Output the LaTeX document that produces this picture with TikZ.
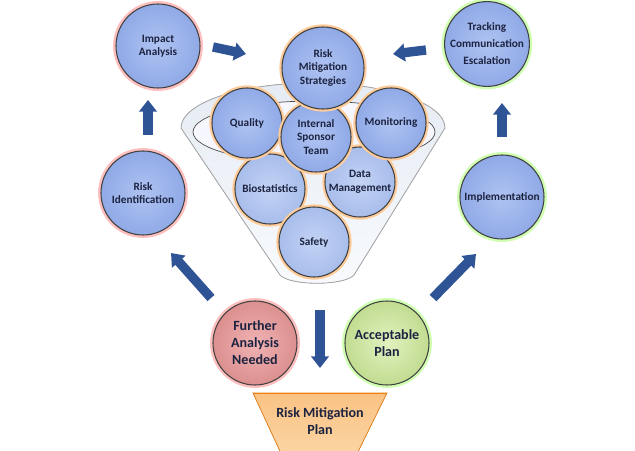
\documentclass[tikz,border=0pt]{standalone}
\usepackage{fontspec}
\setmainfont{Carlito}
\usetikzlibrary{arrows.meta,positioning,calc}

\definecolor{ballIn}{HTML}{AFC3F2}
\definecolor{ballOut}{HTML}{90AAE7}
\definecolor{paleIn}{HTML}{C3D3F5}
\definecolor{paleOut}{HTML}{A8BDEB}
\definecolor{arrowblue}{HTML}{2F5496}
\definecolor{textnavy}{HTML}{1C2340}
\definecolor{redIn}{HTML}{F0B3B3}
\definecolor{redOut}{HTML}{DC8F8F}
\definecolor{greenIn}{HTML}{E1F1C0}
\definecolor{greenOut}{HTML}{C2DC90}
\definecolor{planTop}{HTML}{F9C283}
\definecolor{planBot}{HTML}{FCD7A8}
\definecolor{funnelTop}{HTML}{E6ECF4}
\definecolor{funnelBot}{HTML}{F8FAFD}

\begin{document}
\begin{tikzpicture}[x=0.03cm, y=-0.03cm,
    ball/.style={circle, inner sep=0pt, align=center, text=textnavy,
      font=\fontsize{9.6}{11.5}\selectfont\bfseries, draw=gray!50!black,
      line width=0.9pt, inner color=ballIn, outer color=ballOut},
    stage/.style={ball, minimum size=2.52cm},
    part/.style={ball, minimum size=2.1cm},
    pale/.style={inner color=paleIn, outer color=paleOut},
    glowred/.style={preaction={draw=red!25, line width=5pt}},
    glowgreen/.style={preaction={draw=green!60!yellow!30, line width=5pt}},
    gloworange/.style={preaction={draw=orange!40, line width=4.5pt}},
    bigtext/.style={font=\fontsize{12}{14.5}\selectfont\bfseries},
    flow/.style={draw=arrowblue, line width=8pt, -{Triangle[width=15pt,length=10pt]}}]
  \useasboundingbox (0,0) rectangle (635,451);
  \clip (0,0) rectangle (635,451);

  % Funnel
  \filldraw[draw=gray!70, line width=0.7pt, top color=funnelTop, bottom color=funnelBot]
    (181,128) -- (280,275) .. controls (290,286) and (344,286) .. (354,275)
    -- (445,128) arc[start angle=0, end angle=-180, x radius=132, y radius=45];
  \filldraw[draw=gray!60!black, line width=0.6pt, fill=gray!15!blue!4]
    (314,132) ellipse[x radius=121, y radius=31];

  % Circles inside the funnel
  \node[part, pale, gloworange] (bio) at (270,189) {Biostatistics};
  \node[part, pale, gloworange] (data) at (360,182) {Data\\Management};
  \node[part, pale, gloworange] (safety) at (314,242) {Safety};
  \node[part, gloworange] (quality) at (247,123) {Quality};
  \node[part, gloworange] (monitor) at (391,123) {Monitoring};
  \node[part, gloworange] (sponsor) at (316,137) {Internal\\Sponsor\\Team};
  \node[stage, gloworange, minimum size=2.46cm] (rms) at (323,68) {Risk\\Mitigation\\Strategies};

  % Stages of the cycle
  \node[stage, glowred] (impact) at (158,46) {Impact\\Analysis};
  \node[stage, glowred] (riskid) at (143,193) {Risk\\Identification};
  \node[stage, glowgreen] (track) at (487,44) {Tracking\\[3pt]Communication\\[3pt]Escalation};
  \node[stage, glowgreen] (impl) at (502,197) {Implementation};
  \node[stage, glowred, bigtext, inner color=redIn, outer color=redOut] (further) at (255,343) {Further\\Analysis\\Needed};
  \node[stage, glowgreen, bigtext, inner color=greenIn, outer color=greenOut] (accept) at (387,343) {Acceptable\\Plan};

  % Risk mitigation plan
  \filldraw[draw=orange!60!brown, line width=0.6pt, top color=planTop, bottom color=planBot]
    (253,393) -- (387,393) -- (353,462) -- (285,462) -- cycle;
  \draw[orange!80!brown, line width=1.2pt] (254,393.5) -- (386,393.5);
  \node[bigtext, text=textnavy, align=center] (plan) at (320,421) {Risk Mitigation\\Plan};

  % Arrows
  \coordinate (idTail) at (148,135);   \coordinate (idHead) at (148,100);
  \coordinate (imTail) at (213,47);    \coordinate (imHead) at (246,54);
  \coordinate (trTail) at (426,50);    \coordinate (trHead) at (393,54);
  \coordinate (ipTail) at (502,137);   \coordinate (ipHead) at (502,103);
  \coordinate (faTail) at (211,298);   \coordinate (faHead) at (171,253);
  \coordinate (apTail) at (433,298);   \coordinate (apHead) at (476,254);
  \coordinate (dnTail) at (320,310);   \coordinate (dnHead) at (320,368);
  \draw[flow] (idTail) -- (idHead);
  \draw[flow] (imTail) -- (imHead);
  \draw[flow] (trTail) -- (trHead);
  \draw[flow] (ipTail) -- (ipHead);
  \draw[flow] (faTail) -- (faHead);
  \draw[flow] (apTail) -- (apHead);
  \draw[flow] (dnTail) -- (dnHead);
\end{tikzpicture}
\end{document}
